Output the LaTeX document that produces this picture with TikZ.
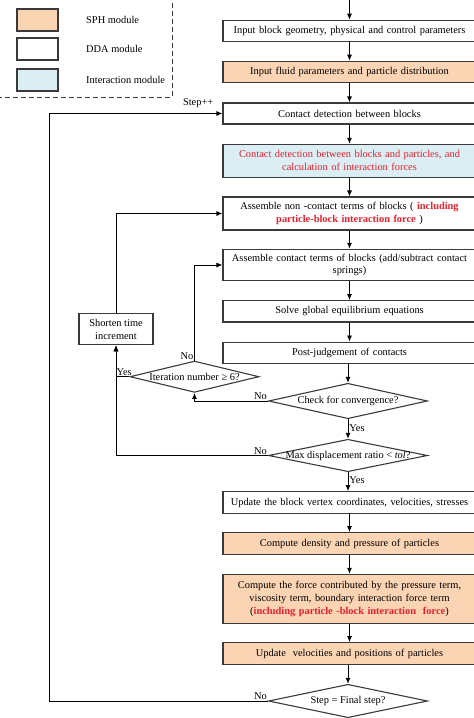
\documentclass[tikz,border=0pt]{standalone}
\usepackage{fontspec}
\setmainfont{Liberation Serif}
\usetikzlibrary{shapes.geometric,arrows.meta,calc}
\definecolor{sphfill}{HTML}{FBD4B4}
\definecolor{intfill}{HTML}{DAEEF3}
\definecolor{bordc}{HTML}{3A3A3A}
\definecolor{redtxt}{HTML}{E8202E}
\begin{document}
\begin{tikzpicture}[x=1pt,y=-1pt,
  font=\fontsize{10.4}{12.8}\selectfont,
  box/.style={draw=bordc,line width=1.1pt,rectangle,minimum width=253pt,inner sep=0pt,align=center,text width=245pt},
  sph/.style={box,fill=sphfill},
  intm/.style={box,fill=intfill},
  dia/.style={draw=bordc,line width=1.1pt,diamond,inner sep=0pt},
  arr/.style={-{Latex[length=6pt,width=5pt]},line width=0.9pt,black},
  lab/.style={inner sep=1pt}]
\useasboundingbox (0,0) rectangle (474,718);
% legend
\draw[dashed,line width=0.9pt,bordc,dash pattern=on 5pt off 3pt] (-5,-5) rectangle (172,97);
\node[draw=bordc,line width=1.1pt,fill=sphfill,minimum width=41pt,minimum height=22pt,inner sep=0pt] (lg1) at (37.5,20) {};
\node[draw=bordc,line width=1.1pt,fill=white,minimum width=41pt,minimum height=22pt,inner sep=0pt] (lg2) at (37.5,49) {};
\node[draw=bordc,line width=1.1pt,fill=intfill,minimum width=41pt,minimum height=22pt,inner sep=0pt] (lg3) at (37.5,80) {};
\node[anchor=west,inner sep=0pt] (lt1) at (86,20) {SPH module};
\node[anchor=west,inner sep=0pt] (lt2) at (86,49) {DDA module};
\node[anchor=west,inner sep=0pt] (lt3) at (86,80) {Interaction module};
% main boxes
\coordinate (start) at (349.5,0);
\node[box,minimum height=21.5pt] (b1) at (349.5,31) {Input block geometry, physical and control parameters};
\node[sph,minimum height=21.5pt] (b2) at (349.5,72) {Input fluid parameters and particle distribution};
\node[box,minimum height=21pt] (b3) at (349.5,113.5) {Contact detection between blocks};
\node[intm,minimum height=32.7pt,text=redtxt] (b4) at (349.5,160.7) {Contact detection between blocks and particles, and\\calculation of interaction forces};
\node[box,minimum height=33pt] (b5) at (349.5,213.5) {Assemble non -contact terms of blocks ( \textcolor{redtxt}{\textbf{including}}\\\textcolor{redtxt}{\textbf{particle-block interaction force}} )};
\node[box,minimum height=31.4pt] (b6) at (349.5,265) {Assemble contact terms of blocks (add/subtract contact\\springs)};
\node[box,minimum height=21.3pt] (b7) at (349.5,311.3) {Solve global equilibrium equations};
\node[box,minimum height=21.3pt] (b8) at (349.5,352.7) {Post-judgement of contacts};
\node[dia,minimum width=159pt,minimum height=35.4pt,label={center:Check for convergence?}] (chk) at (348,401) {};
\node[dia,minimum width=129pt,minimum height=31.3pt,label={center:Iteration number ≥ 6?}] (itr) at (194.5,376.7) {};
\node[draw=bordc,line width=1.1pt,rectangle,minimum width=74pt,minimum height=31pt,inner sep=0pt,align=center] (shr) at (116,329.2) {Shorten time\\increment};
\node[dia,minimum width=159pt,minimum height=32.4pt,label={center:Max displacement ratio < \textit{tol}?}] (maxd) at (348,455.5) {};
\node[box,minimum height=21.6pt] (b9) at (349.5,502.5) {Update the block vertex coordinates, velocities, stresses};
\node[sph,minimum height=22pt] (b10) at (349.5,543.7) {Compute density and pressure of particles};
\node[sph,minimum height=48.7pt] (b11) at (349.5,598.7) {Compute the force contributed by the pressure term,\\viscosity term, boundary interaction force term\\(\textcolor{redtxt}{\textbf{including particle -block interaction\ \ force}})};
\node[sph,minimum height=21.6pt] (b12) at (349.5,653.5) {Update\ \ velocities and positions of particles};
\node[dia,minimum width=159pt,minimum height=33.4pt,label={center:Step = Final step?}] (fin) at (348,701) {};
\coordinate (loopx) at (49,0);
% connectors
\draw[arr] (start) -- (b1);
\draw[arr] (b1) -- (b2);
\draw[arr] (b2) -- (b3);
\draw[arr] (b3) -- (b4);
\draw[arr] (b4) -- (b5);
\draw[arr] (b5) -- (b6);
\draw[arr] (b6) -- (b7);
\draw[arr] (b7) -- (b8);
\draw[arr] (b8.south -| chk.north) -- (chk.north);
\draw[arr] (chk.south) -- node[lab,anchor=west,pos=0.45]{Yes} (maxd.north);
\draw[arr] (maxd.south) -- node[lab,anchor=west,pos=0.4]{Yes} (b9.north -| maxd.south);
\draw[arr] (b9) -- (b10);
\draw[arr] (b10) -- (b11);
\draw[arr] (b11) -- (b12);
\draw[arr] (b12.south -| fin.north) -- (fin.north);
\draw[arr] (chk.west) -| (itr.south);
\node[lab,anchor=south east] (nochk) at (chk.west) {No};
\draw[arr] (itr.north) |- (b6.west);
\node[lab,anchor=south east] (noitr) at (itr.north) {No};
\draw[arr] (itr.west) -| (shr.south);
\node[lab,anchor=south west] (yesitr) at ($(itr.west)+(-14,0)$) {Yes};
\draw[arr] (maxd.west) -| (shr.south);
\node[lab,anchor=south east] (nomaxd) at (maxd.west) {No};
\draw[arr] (shr.north) |- (b5.west);
\draw[arr] (fin.west) -- (fin.west -| loopx) |- (b3.west);
\node[lab,anchor=south east] (nofin) at (fin.west) {No};
\node[lab,anchor=south east] (stp) at ($(b3.west)+(-8,-5)$) {Step++};
\end{tikzpicture}
\end{document}
